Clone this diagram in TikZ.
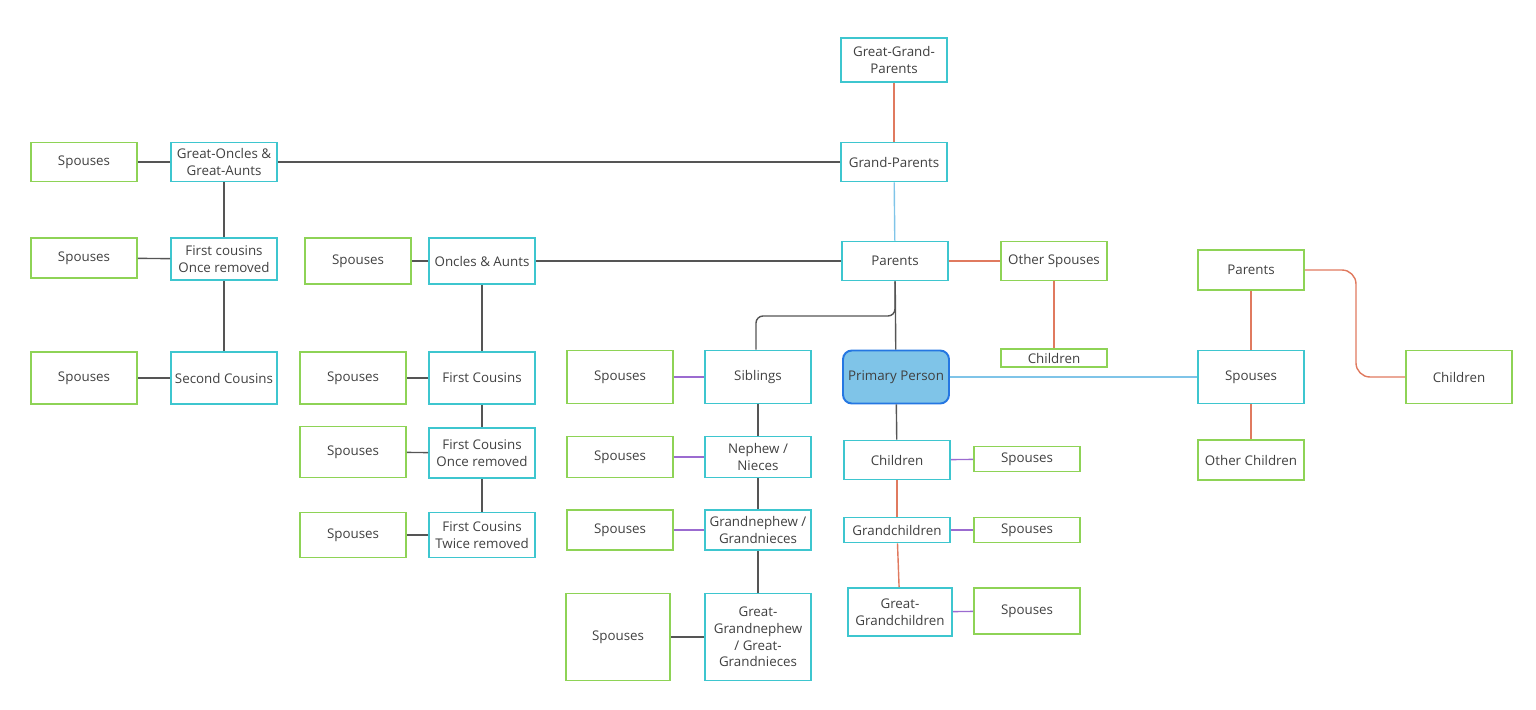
\documentclass[tikz,border=0pt]{standalone}
\usepackage{fontspec}
\setmainfont{Open Sans}
\usetikzlibrary{positioning}
\definecolor{kin}{HTML}{3EC6CF}
\definecolor{inlaw}{HTML}{8ED356}
\definecolor{lnk}{HTML}{555555}
\definecolor{blood}{HTML}{E07A5F}
\definecolor{sky}{HTML}{7FC4E8}
\definecolor{marry}{HTML}{9B6BD0}
\tikzset{
  base/.style={draw, line width=1.1pt, align=center, inner sep=1pt, text=black!75,
    font=\fontsize{7.6}{9.5}\selectfont, minimum width=2.12cm},
  rel/.style={base, draw=kin},
  sp/.style={base, draw=inlaw},
  me/.style={base, draw=kin!60!blue, fill=sky, rounded corners=5pt},
  tie/.style={line width=0.8pt, draw=lnk},
  org/.style={line width=0.8pt, draw=blood},
  blu/.style={line width=0.8pt, draw=sky},
  mar/.style={line width=0.8pt, draw=marry}
}
\begin{document}
\begin{tikzpicture}[x=0.02cm, y=-0.02cm]
\useasboundingbox (0,0) rectangle (1536,710);
% central column
\node[rel, minimum height=0.88cm] (ggp) at (894,60) {Great-Grand-\\Parents};
\node[rel, minimum height=0.78cm] (gp) at (894,162) {Grand-Parents};
\node[rel, minimum height=0.78cm] (par) at (895,261) {Parents};
\node[sp, minimum height=0.78cm] (osp) at (1054,261) {Other Spouses};
\node[sp, minimum height=0.36cm] (och) at (1054,358) {Children};
\node[me, minimum height=1.06cm] (pp) at (896,377) {Primary Person};
\node[rel, minimum height=0.78cm] (ch) at (897,460) {Children};
\node[sp, minimum height=0.5cm] (chs) at (1027,459) {Spouses};
\node[rel, minimum height=0.5cm] (gch) at (897,530) {Grandchildren};
\node[sp, minimum height=0.5cm] (gchs) at (1027,530) {Spouses};
\node[rel, minimum height=0.96cm, minimum width=2.08cm] (ggch) at (900,612) {Great-\\Grandchildren};
\node[sp, minimum height=0.92cm] (ggchs) at (1027,611) {Spouses};
% partner side
\node[sp, minimum height=0.8cm] (ppar) at (1251,270) {Parents};
\node[rel, minimum height=1.06cm] (psp) at (1251,377) {Spouses};
\node[sp, minimum height=1.06cm] (pch) at (1459,377) {Children};
\node[sp, minimum height=0.8cm] (poch) at (1251,460) {Other Children};
% siblings
\node[rel, minimum height=1.06cm] (sib) at (758,377) {Siblings};
\node[sp, minimum height=1.06cm] (sibs) at (620,377) {Spouses};
\node[rel, minimum height=0.82cm] (nep) at (758,457) {Nephew /\\Nieces};
\node[sp, minimum height=0.82cm] (neps) at (620,457) {Spouses};
\node[rel, minimum height=0.8cm] (gnep) at (758,530) {Grandnephew /\\Grandnieces};
\node[sp, minimum height=0.8cm] (gneps) at (620,530) {Spouses};
\node[rel, minimum height=1.74cm] (ggnep) at (758,637) {Great-\\Grandnephew\\/ Great-\\Grandnieces};
\node[sp, minimum height=1.74cm, minimum width=2.08cm] (ggneps) at (618,637) {Spouses};
% aunts and cousins
\node[rel, minimum height=0.92cm] (oa) at (482,261) {Oncles \& Aunts};
\node[sp, minimum height=0.92cm] (oas) at (358,261) {Spouses};
\node[rel, minimum height=1.04cm] (fc) at (482,378) {First Cousins};
\node[sp, minimum height=1.04cm] (fcs) at (353,378) {Spouses};
\node[rel, minimum height=1cm] (fc1) at (482,453) {First Cousins\\Once removed};
\node[sp, minimum height=1.02cm] (fc1s) at (353,452) {Spouses};
\node[rel, minimum height=0.9cm] (fc2) at (482,535) {First Cousins\\Twice removed};
\node[sp, minimum height=0.9cm] (fc2s) at (353,535) {Spouses};
% great-aunts
\node[rel, minimum height=0.78cm] (goa) at (224,162) {Great-Oncles \&\\Great-Aunts};
\node[sp, minimum height=0.78cm] (goas) at (84,162) {Spouses};
\node[rel, minimum height=0.84cm] (c1r) at (224,259) {First cousins\\Once removed};
\node[sp, minimum height=0.8cm] (c1rs) at (84,258) {Spouses};
\node[rel, minimum height=1.04cm] (sc) at (224,378) {Second Cousins};
\node[sp, minimum height=1.04cm] (scs) at (84,378) {Spouses};

\draw[org] (ggp) -- (gp);
\draw[blu] (gp) -- (par);
\draw[org] (par) -- (osp);
\draw[org] (osp) -- (och);
\draw[tie] (par) -- (pp);
\draw[tie, rounded corners=4pt] (par.south) |- (756,316) -- (sib.north -| 756,0);
\draw[blu] (pp) -- (psp);
\draw[tie] (pp) -- (ch);
\draw[org] (ch) -- (gch);
\draw[org] (gch) -- (ggch);
\draw[mar] (ch) -- (chs);
\draw[mar] (gch) -- (gchs);
\draw[mar] (ggch) -- (ggchs);
\draw[org] (ppar) -- (psp);
\draw[org] (psp) -- (poch);
\draw[org, rounded corners=8pt] (ppar.east) -| (1356,377) -- (pch.west);
\draw[mar] (sib) -- (sibs);
\draw[mar] (nep) -- (neps);
\draw[mar] (gnep) -- (gneps);
\draw[tie] (ggnep) -- (ggneps);
\draw[tie] (sib) -- (nep);
\draw[tie] (nep) -- (gnep);
\draw[tie] (gnep) -- (ggnep);
\draw[tie] (gp) -- (goa);
\draw[tie] (par) -- (oa);
\draw[tie] (oa) -- (oas);
\draw[tie] (oa) -- (fc);
\draw[tie] (fc) -- (fcs);
\draw[tie] (fc) -- (fc1);
\draw[tie] (fc1) -- (fc1s);
\draw[tie] (fc1) -- (fc2);
\draw[tie] (fc2) -- (fc2s);
\draw[tie] (goa) -- (goas);
\draw[tie] (goa) -- (c1r);
\draw[tie] (c1r) -- (c1rs);
\draw[tie] (c1r) -- (sc);
\draw[tie] (sc) -- (scs);
\end{tikzpicture}
\end{document}
